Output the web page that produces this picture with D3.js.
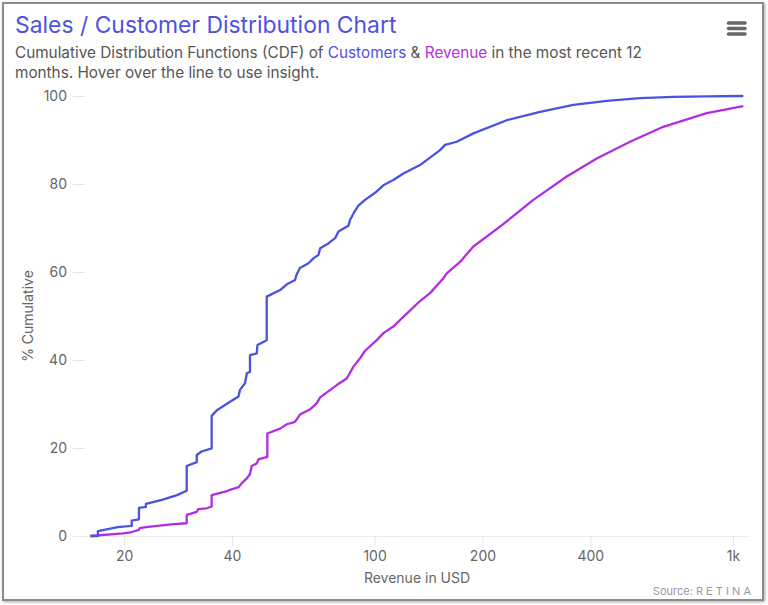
<!DOCTYPE html>
<html>
<head>
<meta charset="utf-8">
<script src="https://cdn.jsdelivr.net/npm/d3@7"></script>
<style>
  body { margin: 0; background: #ffffff; }
  text { font-family: Inter, "Open Sans", sans-serif; }
</style>
</head>
<body>
<svg id="chart" width="768" height="605"></svg>
<script>
// Customers CDF: revenue (USD) and cumulative %
const custRevenue = [16.1, 16.9, 16.9, 19.2, 21.0, 21.0, 22.0, 22.0, 23.0, 23.0, 25.5, 28.1, 29.9, 29.9, 31.9, 31.9, 32.9, 35.1, 35.1, 36.3, 39.5, 41.7, 42.1, 43.5, 44.0, 44.9, 44.9, 46.9, 47.1, 50.0, 50.0, 54.5, 56.9, 60.0, 60.5, 61.9, 65.4, 67.5, 69.7, 70.5, 74.3, 77.6, 79.3, 84.5, 85.4, 87.3, 90.1, 94.1, 100.3, 105.8, 112.8, 120.3, 133.9, 152.3, 157.3, 169.6, 188.7, 233.8, 289.7, 358.6, 444.7, 550.6, 681.9, 845, 1069]
const custCum = [0, 0, 1.1, 2.0, 2.3, 3.5, 3.8, 6.4, 6.6, 7.3, 8.2, 9.3, 10.3, 15.9, 16.8, 18.4, 19.2, 19.9, 27.3, 28.6, 30.5, 31.7, 33.2, 34.7, 37.0, 37.3, 41.1, 41.5, 43.4, 44.5, 54.4, 55.9, 57.2, 58.2, 59.3, 60.9, 62.0, 63.1, 63.9, 65.4, 66.5, 67.7, 69.2, 70.5, 71.8, 73.3, 75.1, 76.4, 78.0, 79.7, 80.9, 82.4, 84.3, 87.7, 88.9, 89.6, 91.5, 94.5, 96.4, 98.0, 98.9, 99.5, 99.8, 99.9, 100]

// Revenue CDF
const revRevenue = [16.1, 19.9, 20.8, 22.0, 22.1, 23.0, 25.5, 27.5, 29.9, 29.9, 31.9, 32.2, 34.0, 35.1, 35.1, 37.1, 38.7, 39.5, 41.7, 42.6, 44.0, 44.9, 45.4, 46.9, 47.4, 50.2, 50.2, 54.5, 56.9, 59.4, 60.0, 61.9, 66.1, 69.0, 70.5, 78.4, 83.6, 87.3, 91.1, 94.1, 101.4, 105.8, 112.8, 117.8, 120.3, 133.9, 142.8, 155.6, 159.0, 173.2, 188.7, 223.9, 277.4, 343.8, 416.8, 516.3, 639.3, 845, 1069]
const revCum = [0, 0.6, 0.8, 1.4, 1.8, 2.0, 2.4, 2.7, 2.9, 4.8, 5.5, 6.1, 6.3, 6.7, 9.3, 9.8, 10.2, 10.5, 11.1, 12.0, 13.1, 14.1, 15.9, 16.5, 17.4, 18.0, 23.3, 24.4, 25.4, 25.8, 26.0, 27.6, 28.8, 30.2, 31.5, 34.3, 35.8, 38.5, 40.4, 42.1, 44.5, 46.1, 47.6, 49.1, 49.8, 53.4, 55.2, 58.6, 59.7, 62.3, 65.8, 70.3, 76.4, 81.7, 85.8, 89.6, 93.0, 96.1, 97.7]

const xTicks = [20, 40, 100, 200, 400, 1000]
const xTickLabels = ['20', '40', '100', '200', '400', '1k']
const yTicks = [0, 20, 40, 60, 80, 100]

var svg = d3.select('#chart')

// frame
var defs = svg.append('defs')
var f = defs.append('filter').attr('id', 'shadow').attr('x', '-5%').attr('y', '-5%').attr('width', '110%').attr('height', '110%')
f.append('feDropShadow').attr('dx', 1).attr('dy', 1).attr('stdDeviation', 1.5).attr('flood-color', '#000').attr('flood-opacity', 0.35)
svg.append('rect')
  .attr('x', 3).attr('y', 3).attr('width', 760).attr('height', 597)
  .attr('fill', '#fff').attr('stroke', '#8c8c8c').attr('stroke-width', 2)
  .attr('filter', 'url(#shadow)')

// title + subtitle
svg.append('text')
  .attr('x', 15).attr('y', 33)
  .style('font-size', '22.9px')
  .attr('fill', '#4f52e0')
  .text('Sales / Customer Distribution Chart')

var sub1 = svg.append('text').attr('x', 15).attr('y', 58).style('font-size', '15.3px').attr('fill', '#555')
sub1.append('tspan').text('Cumulative Distribution Functions (CDF) of ')
sub1.append('tspan').attr('fill', '#4f52e0').text('Customers')
sub1.append('tspan').text(' & ')
sub1.append('tspan').attr('fill', '#b52ee0').text('Revenue')
sub1.append('tspan').text(' in the most recent 12')
svg.append('text').attr('x', 15).attr('y', 78).style('font-size', '15.3px').attr('fill', '#555')
  .text('months. Hover over the line to use insight.')

// menu icon
var menu = svg.append('g').attr('stroke', '#666').attr('stroke-width', 3.5).attr('stroke-linecap', 'round')
;[23, 28.5, 34].forEach(function(yy) {
  menu.append('line').attr('x1', 728.5).attr('x2', 745).attr('y1', yy).attr('y2', yy)
})

// scales
var x = d3.scaleLog().domain([14.4, 1116]).range([73, 750])
var y = d3.scaleLinear().domain([0, 100]).range([536, 96])

// y axis: short ticks, labels
var yAxis = svg.append('g').attr('transform', 'translate(73,0)')
  .call(d3.axisRight(y).tickValues(yTicks).tickSize(12).tickFormat(d3.format('d')))
yAxis.select('.domain').remove()
yAxis.selectAll('.tick line').attr('stroke', '#e6e6e6')
yAxis.selectAll('.tick text')
  .attr('x', -6).attr('text-anchor', 'end')
  .style('font-size', '14px').attr('fill', '#666')
  .style('font-family', 'Inter, sans-serif')

// x axis
var xAxis = svg.append('g').attr('transform', 'translate(0,536)')
  .call(d3.axisBottom(x).tickValues(xTicks).tickSize(10).tickSizeOuter(0)
    .tickFormat(function(d, i) { return xTickLabels[i] }))
xAxis.select('.domain').attr('stroke', '#ececec').attr('d', 'M73,0.5H750')
xAxis.selectAll('.tick line').attr('stroke', '#e6e6e6')
xAxis.selectAll('.tick text')
  .attr('y', 15)
  .style('font-size', '14px').attr('fill', '#666')
  .style('font-family', 'Inter, sans-serif')

// axis titles
svg.append('text')
  .attr('transform', 'translate(33,316)rotate(-90)')
  .attr('text-anchor', 'middle')
  .style('font-size', '14px').attr('fill', '#666')
  .text('% Cumulative')
svg.append('text')
  .attr('x', 417).attr('y', 583)
  .attr('text-anchor', 'middle')
  .style('font-size', '14px').attr('fill', '#666')
  .text('Revenue in USD')
svg.append('text')
  .attr('x', 751).attr('y', 595)
  .attr('text-anchor', 'end')
  .style('font-size', '11px').attr('fill', '#999')
  .text('Source: R E T I N A')

// lines
var line = d3.line().x(d => x(d[0])).y(d => y(d[1]))
var custData = custRevenue.map((v, i) => [v, custCum[i]])
var revData = revRevenue.map((v, i) => [v, revCum[i]])

svg.append('path').datum(revData)
  .attr('d', line).attr('fill', 'none')
  .attr('stroke', '#b12ee0').attr('stroke-width', 2.3).attr('stroke-linejoin', 'round')
svg.append('path').datum(custData)
  .attr('d', line).attr('fill', 'none')
  .attr('stroke', '#4a52e1').attr('stroke-width', 2.3).attr('stroke-linejoin', 'round')
</script>
</body>
</html>
